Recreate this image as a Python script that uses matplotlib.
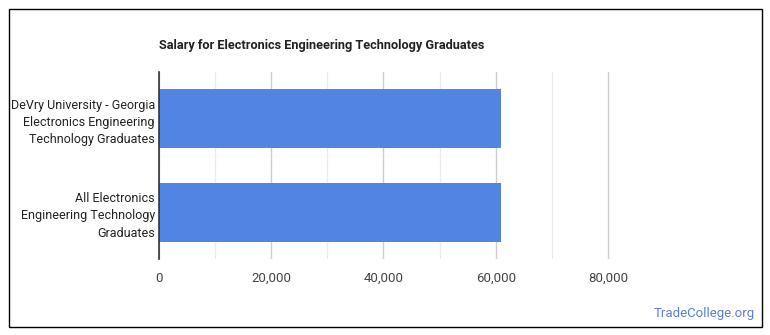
import matplotlib
matplotlib.use("Agg")
import matplotlib.pyplot as plt
from matplotlib.patches import Rectangle

categories = ["DeVry University - Georgia\nElectronics Engineering\nTechnology Graduates",
              "All Electronics\nEngineering Technology\nGraduates"]
salaries = [61000, 61000]
major_ticks = [0, 20000, 40000, 60000, 80000]
tick_labels = ["0", "20,000", "40,000", "60,000", "80,000"]
minor_ticks = [10000, 30000, 50000, 70000]
title = "Salary for Electronics Engineering Technology Graduates"

plt.rcParams['font.family'] = ['Roboto', 'DejaVu Sans']

fig = plt.figure(figsize=(7.7, 3.35), dpi=100)
ax = fig.add_axes([159/770, 1-259/335, (613.6-159)/770, (259-72)/335])

ypos = list(range(len(categories)))
ax.barh(ypos, salaries, height=0.63, color='#5285E3', zorder=3)
ax.set_ylim(len(categories)-0.5, -0.5)
ax.set_xlim(0, 81000)
ax.set_yticks(ypos)
ax.set_yticklabels(categories, fontsize=9, color='#222222', linespacing=1.42)
ax.set_xticks(major_ticks)
ax.set_xticklabels(tick_labels, fontsize=9.5, color='#444444')
ax.set_xticks(minor_ticks, minor=True)
ax.tick_params(axis='both', which='both', length=0)
ax.tick_params(axis='x', pad=9)
ax.tick_params(axis='y', pad=3)
ax.grid(axis='x', which='major', color='#cccccc', linewidth=1, zorder=0)
ax.grid(axis='x', which='minor', color='#ebebeb', linewidth=1, zorder=0)
for s in ['top', 'right', 'bottom']:
    ax.spines[s].set_visible(False)
ax.spines['left'].set_color('#333333')
ax.spines['left'].set_linewidth(1.2)
ax.spines['left'].set_zorder(4)

fig.text(159/770, 1-45/335, title, fontsize=9.2, fontweight='bold', color='#222222',
         ha='left', va='center')
fig.text(755/770, 1-313/335, "TradeCollege.org", fontsize=9.5, color='#5b7fd6',
         ha='right', va='center')

fig.patches.append(Rectangle((8.5/770, 1-326.5/335), (761.5-8.5)/770, (326.5-8.5)/335,
                             transform=fig.transFigure, fill=False, edgecolor='black',
                             linewidth=1))

fig.savefig("out.png", dpi=100)
